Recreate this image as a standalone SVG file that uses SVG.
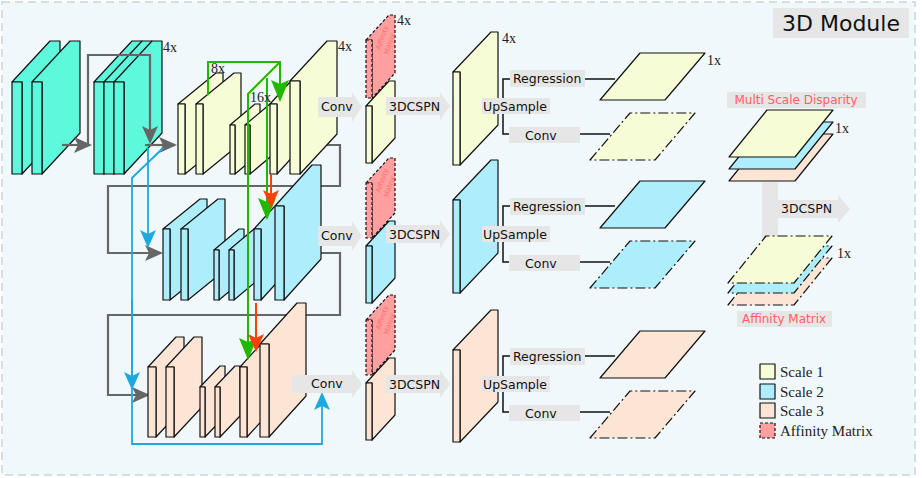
<svg xmlns="http://www.w3.org/2000/svg" width="922" height="478" viewBox="0 0 922 478">
<defs>
<style>
.s{stroke:#111;stroke-width:1.2;stroke-linejoin:round}
.t{fill:#5ef8dc}.y{fill:#f6fcd5}.b{fill:#aeeefc}.p{fill:#fde5d5}.r{fill:#ff9f9f}
.d{stroke-dasharray:3,2}
.dd{stroke-dasharray:10,3,2,3}
.lab{font-family:"DejaVu Sans",sans-serif;font-size:12.5px;fill:#111}
.ser{font-family:"Liberation Serif",serif;font-size:14px;fill:#222}
.leg{font-family:"Liberation Serif",serif;font-size:15px;fill:#222}
.bg{fill:#e6e6e6}
.g{fill:none;stroke:#666;stroke-width:2.2}
.bl{fill:none;stroke:#1ca9e0;stroke-width:1.8}
.gr{fill:none;stroke:#22b800;stroke-width:2}
.rd{fill:none;stroke:#ff4000;stroke-width:2}
.k{fill:none;stroke:#111;stroke-width:1.5}
.pk{font-family:"DejaVu Sans",sans-serif;font-size:12px;fill:#ff6060}
</style>
<marker id="ag" markerWidth="18" markerHeight="16" refX="16" refY="8" orient="auto" markerUnits="userSpaceOnUse"><path d="M0,0L18,8L0,16L4,8z" fill="#666"/></marker>
<marker id="ab" markerWidth="18" markerHeight="16" refX="16" refY="8" orient="auto" markerUnits="userSpaceOnUse"><path d="M0,0L18,8L0,16L4,8z" fill="#1ca9e0"/></marker>
<marker id="agr" markerWidth="22" markerHeight="18" refX="20" refY="9" orient="auto" markerUnits="userSpaceOnUse"><path d="M0,0L22,9L0,18L4,9z" fill="#22b800"/></marker>
<marker id="ard" markerWidth="18" markerHeight="16" refX="16" refY="8" orient="auto" markerUnits="userSpaceOnUse"><path d="M0,0L18,8L0,16L4,8z" fill="#ff4000"/></marker>
</defs>
<rect x="2" y="2" width="913" height="473" fill="#f1f8fb" stroke="#d6dee4" stroke-width="2" stroke-dasharray="8,5"/>
<g id="title"><rect x="773" y="8" width="136" height="30" class="bg"/><text x="841" y="31" text-anchor="middle" font-family="DejaVu Sans,sans-serif" font-size="22" fill="#111">3D Module</text></g>

<g id="encoder-teal" class="s t">
<polygon points="12,82 50,41 60,41 60,133 22,174 22,82"/><rect x="12" y="82" width="10" height="92"/>
<polygon points="32,82 70,41 80,41 80,133 42,174 42,82"/><rect x="32" y="82" width="10" height="92"/>
<polygon points="94,82 132,41 142,41 142,133 104,174 104,82"/><rect x="94" y="82" width="10" height="92"/>
<polygon points="104,82 142,41 152,41 152,133 114,174 114,82"/><rect x="104" y="82" width="10" height="92"/>
<polygon points="114,82 152,41 162,41 162,133 124,174 124,82"/><rect x="114" y="82" width="10" height="92"/>
</g>

<g id="connectors">
<line x1="62" y1="145" x2="90" y2="145" class="g" marker-end="url(#ag)"/>
<polyline points="88,145 88,55 150,55 150,142" class="g" marker-end="url(#ag)"/>
<line x1="145" y1="145" x2="175" y2="145" class="g" marker-end="url(#ag)"/>
<polyline points="322,145 340,145 340,186 108,186 108,253 161,253" class="g" marker-end="url(#ag)"/>
<polyline points="313,253 340,253 340,315 108,315 108,395 148,395" class="g" marker-end="url(#ag)"/>
<polyline points="163,148 132,178 132,444 322,444 322,394" class="bl" marker-end="url(#ab)"/>
<line x1="132" y1="300" x2="132" y2="388" class="bl" marker-end="url(#ab)"/>
<line x1="148" y1="148" x2="148" y2="246" class="bl" marker-end="url(#ab)"/>
</g>

<g id="scale1" class="s y">
<polygon points="178,104 216,73 223,73 223,143 185,174 185,104"/><rect x="178" y="104" width="7" height="70"/>
<polygon points="196,104 234,73 241,73 241,143 203,174 203,104"/><rect x="196" y="104" width="7" height="70"/>
<polygon points="230,125 255,104 260,104 260,153 235,174 235,125"/><rect x="230" y="125" width="5" height="49"/>
<polygon points="245,125 270,104 275,104 275,153 250,174 250,125"/><rect x="245" y="125" width="5" height="49"/>
<polygon points="270,104 290,82 297,82 297,152 277,174 277,104"/><rect x="270" y="104" width="7" height="70"/>
<polygon points="290,81 327,41 337,41 337,134 300,174 300,81"/><rect x="290" y="81" width="10" height="93"/>
</g>
<g id="scale2" class="s b">
<polygon points="163,229 200,199 207,199 207,270 170,300 170,229"/><rect x="163" y="229" width="7" height="71"/>
<polygon points="181,229 218,199 225,199 225,270 188,300 188,229"/><rect x="181" y="229" width="7" height="71"/>
<polygon points="214,250 239,229 244,229 244,279 219,300 219,250"/><rect x="214" y="250" width="5" height="50"/>
<polygon points="229,250 254,229 259,229 259,279 234,300 234,250"/><rect x="229" y="250" width="5" height="50"/>
<polygon points="254,229 274,207 281,207 281,278 261,300 261,229"/><rect x="254" y="229" width="7" height="71"/>
<polygon points="275,206 312,165 321,165 321,259 284,300 284,206"/><rect x="275" y="206" width="9" height="94"/>
</g>
<g id="scale3" class="s p">
<polygon points="148,367 176,337 184,337 184,407 156,437 156,367"/><rect x="148" y="367" width="8" height="70"/>
<polygon points="166,367 194,337 202,337 202,407 174,437 174,367"/><rect x="166" y="367" width="8" height="70"/>
<polygon points="200,387 220,366 225,366 225,416 205,437 205,387"/><rect x="200" y="387" width="5" height="50"/>
<polygon points="215,387 235,366 240,366 240,416 220,437 220,387"/><rect x="215" y="387" width="5" height="50"/>
<polygon points="240,367 260,345 267,345 267,415 247,437 247,367"/><rect x="240" y="367" width="7" height="70"/>
<polygon points="260,344 297,303 306,303 306,396 269,437 269,344"/><rect x="260" y="344" width="9" height="93"/>
</g>

<g id="skip-arrows">
<polyline points="208,95 208,62 280,62 280,100" class="gr" marker-end="url(#agr)"/>
<polyline points="280,62 248,94 248,358" class="gr" marker-end="url(#agr)"/>
<line x1="267" y1="78" x2="267" y2="218" class="gr" marker-end="url(#agr)"/>
<line x1="271" y1="174" x2="271" y2="206" class="rd" marker-end="url(#ard)"/>
<line x1="256" y1="303" x2="256" y2="350" class="rd" marker-end="url(#ard)"/>
</g>

<g id="labels-left" class="ser">
<text x="163" y="52">4x</text><text x="211" y="73">8x</text><text x="250" y="102">16x</text><text x="338" y="51">4x</text>
</g>

<g id="conv-arrows">
<path d="M318,97 H352 V92 L362,107 L352,122 V117 H318 Z" class="bg"/><text x="321" y="111" class="lab">Conv</text>
<path d="M318,226 H352 V221 L362,236 L352,251 V246 H318 Z" class="bg"/><text x="321" y="240" class="lab">Conv</text>
<path d="M292,375 H352 V370 L362,384 L352,398 V393 H292 Z" class="bg"/><text x="311" y="388" class="lab">Conv</text>
</g>

<g id="affinity-rows">
<g class="s r d"><polygon points="366,40 389,15 395,15 395,73 372,98 372,40"/><rect x="366" y="40" width="6" height="58"/></g>
<g class="s y"><polygon points="366,106 389,81 395,81 395,138 372,163 372,106"/><rect x="366" y="106" width="6" height="57"/></g>
<g class="s r d"><polygon points="366,183 389,158 395,158 395,213 372,238 372,183"/><rect x="366" y="183" width="6" height="55"/></g>
<g class="s b"><polygon points="366,246 389,221 395,221 395,278 372,303 372,246"/><rect x="366" y="246" width="6" height="57"/></g>
<g class="s r d"><polygon points="366,320 389,295 395,295 395,350 372,375 372,320"/><rect x="366" y="320" width="6" height="55"/></g>
<g class="s p"><polygon points="366,383 389,358 395,358 395,415 372,440 372,383"/><rect x="366" y="383" width="6" height="57"/></g>
<g font-family="DejaVu Sans,sans-serif" font-size="7" fill="#ff7070">
<text transform="translate(380,50) rotate(-70)">Affinity</text><text transform="translate(388,55) rotate(-70)">Matrix</text>
<text transform="translate(380,193) rotate(-70)">Affinity</text><text transform="translate(388,198) rotate(-70)">Matrix</text>
<text transform="translate(380,330) rotate(-70)">Affinity</text><text transform="translate(388,335) rotate(-70)">Matrix</text>
</g>
<text x="397" y="25" class="ser">4x</text>
</g>

<g id="cspn-arrows">
<path d="M386,97 H440 V92 L450,106 L440,120 V115 H386 Z" class="bg"/><text x="389" y="111" class="lab">3DCSPN</text>
<path d="M386,225 H440 V220 L450,234 L440,248 V243 H386 Z" class="bg"/><text x="389" y="239" class="lab">3DCSPN</text>
<path d="M386,375 H440 V370 L450,384 L440,398 V393 H386 Z" class="bg"/><text x="389" y="389" class="lab">3DCSPN</text>
</g>

<g id="outputs">
<g class="s y"><polygon points="453,72 491,32 498,32 498,125 460,165 460,72"/><rect x="453" y="72" width="7" height="93"/></g>
<g class="s b"><polygon points="453,200 491,160 498,160 498,253 460,293 460,200"/><rect x="453" y="200" width="7" height="93"/></g>
<g class="s p"><polygon points="453,350 491,310 498,310 498,402 460,442 460,350"/><rect x="453" y="350" width="7" height="92"/></g>
<text x="502" y="43" class="ser">4x</text>
</g>

<g id="heads">
<polyline points="510,79 503,79 503,134 510,134" class="k"/><line x1="585" y1="79" x2="615" y2="79" class="k"/><line x1="580" y1="134" x2="610" y2="134" class="k"/>
<rect x="510" y="70" width="75" height="17" class="bg"/><text x="513" y="83" class="lab">Regression</text>
<rect x="482" y="98" width="68" height="16" class="bg"/><text x="483" y="111" class="lab">UpSample</text>
<rect x="509" y="127" width="71" height="16" class="bg"/><text x="525" y="140" class="lab">Conv</text>
<polygon points="600,100 640,53 705,53 665,100" class="s y"/>
<polygon points="590,160 630,113 695,113 655,160" class="s y dd"/>

<polyline points="510,206 503,206 503,262 510,262" class="k"/><line x1="585" y1="206" x2="615" y2="206" class="k"/><line x1="580" y1="262" x2="610" y2="262" class="k"/>
<rect x="510" y="198" width="75" height="17" class="bg"/><text x="513" y="211" class="lab">Regression</text>
<rect x="482" y="226" width="68" height="16" class="bg"/><text x="483" y="239" class="lab">UpSample</text>
<rect x="509" y="255" width="71" height="16" class="bg"/><text x="525" y="268" class="lab">Conv</text>
<polygon points="600,228 640,181 705,181 665,228" class="s b"/>
<polygon points="590,288 630,241 695,241 655,288" class="s b dd"/>

<polyline points="510,356 503,356 503,412 510,412" class="k"/><line x1="585" y1="356" x2="615" y2="356" class="k"/><line x1="580" y1="412" x2="610" y2="412" class="k"/>
<rect x="510" y="348" width="75" height="17" class="bg"/><text x="513" y="361" class="lab">Regression</text>
<rect x="482" y="376" width="68" height="16" class="bg"/><text x="483" y="389" class="lab">UpSample</text>
<rect x="509" y="405" width="71" height="16" class="bg"/><text x="525" y="418" class="lab">Conv</text>
<polygon points="600,378 640,331 705,331 665,378" class="s p"/>
<polygon points="590,438 630,391 695,391 655,438" class="s p dd"/>
<text x="707" y="65" class="ser">1x</text>
</g>

<g id="multi-scale">
<rect x="727" y="92" width="139" height="16" class="bg"/><text x="796" y="104" text-anchor="middle" class="pk">Multi Scale Disparity</text>
<path d="M762,182 H778 V200 H838 V195 L850,209 L838,223 V218 H778 V238 H762 Z" class="bg"/><text x="781" y="213" class="lab">3DCSPN</text>
<polygon points="729,181 767,134 833,134 795,181" class="s p"/>
<polygon points="729,169 767,122 833,122 795,169" class="s b"/>
<polygon points="729,157 767,110 833,110 795,157" class="s y"/>
<text x="835" y="133" class="ser">1x</text>
<polygon points="728,305 766,258 832,258 794,305" class="s p dd"/>
<polygon points="728,293 766,246 832,246 794,293" class="s b dd"/>
<polygon points="728,283 766,236 832,236 794,283" class="s y dd"/>
<text x="837" y="258" class="ser">1x</text>
<rect x="737" y="311" width="95" height="16" class="bg"/><text x="784" y="323" text-anchor="middle" class="pk">Affinity Matrix</text>
</g>

<g id="legend" class="leg">
<rect x="760" y="364" width="15" height="15" class="s y"/><text x="780" y="377">Scale 1</text>
<rect x="760" y="384" width="15" height="15" class="s b"/><text x="780" y="397">Scale 2</text>
<rect x="760" y="403" width="15" height="15" class="s p"/><text x="780" y="416">Scale 3</text>
<rect x="760" y="423" width="15" height="15" class="s r d"/><text x="780" y="436">Affinity Matrix</text>
</g>
</svg>
